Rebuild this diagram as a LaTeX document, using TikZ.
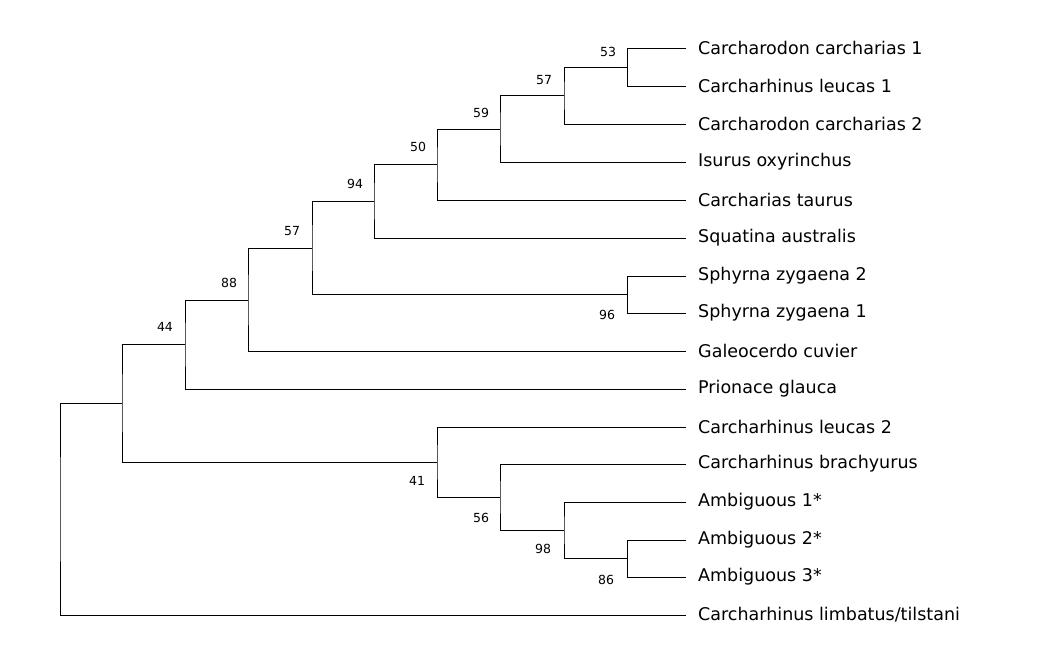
\documentclass[tikz,border=0pt]{standalone}
\usepackage{fontspec}
\setmainfont{DejaVu Sans}
\begin{document}
\begin{tikzpicture}[x=1pt,y=-1pt,
  leaf/.style={anchor=west,font=\fontsize{17.5}{20}\selectfont,inner sep=0pt},
  bs/.style={font=\fontsize{12.5}{14}\selectfont,inner sep=0pt},
  br/.style={line width=0.8pt}]
\useasboundingbox (0,0) rectangle (1056,666);
% leaves
\foreach \n/\y/\t in {L1/48/Carcharodon carcharias 1,L2/86/Carcharhinus leucas 1,L3/124/Carcharodon carcharias 2,L4/162/Isurus oxyrinchus,L5/200/Carcharias taurus,L6/238/Squatina australis,L7/276/Sphyrna zygaena 2,L8/313/Sphyrna zygaena 1,L9/351/Galeocerdo cuvier,L10/389/Prionace glauca,L11/427/Carcharhinus leucas 2,L12/464/Carcharhinus brachyurus,L13/502/Ambiguous 1*,L14/540/Ambiguous 2*,L15/577/Ambiguous 3*,L16/615/{Carcharhinus limbatus/tilstani}}
 {\coordinate (\n) at (686,\y); \node[leaf] (t\n) at (698,\y) {\t};}
% internal nodes
\coordinate (n53) at (627,67);
\coordinate (n57a) at (564,95.5);
\coordinate (n59) at (500,129);
\coordinate (n50) at (437,164.5);
\coordinate (n94) at (374,201);
\coordinate (n96) at (627,294.5);
\coordinate (n57b) at (312,248);
\coordinate (n88) at (248,300);
\coordinate (n44) at (185,344.5);
\coordinate (n86) at (627,558.5);
\coordinate (n98) at (564,530);
\coordinate (n56) at (500,497);
\coordinate (n41) at (437,462);
\coordinate (nin) at (122,403);
\coordinate (root) at (60,509);
\foreach \p/\a/\b in {n53/L1/L2,n57a/n53/L3,n59/n57a/L4,n50/n59/L5,n94/n50/L6,n96/L7/L8,n57b/n94/n96,n88/n57b/L9,n44/n88/L10,n86/L14/L15,n98/L13/n86,n56/L12/n98,n41/L11/n56,nin/n44/n41,root/nin/L16}
 {\draw[br] (\a) -| (\p) |- (\b);}
% bootstrap labels
\node[bs] (b53) at (608,52) {53};
\node[bs] (b57a) at (544,80) {57};
\node[bs] (b59) at (481,113) {59};
\node[bs] (b50) at (418,147) {50};
\node[bs] (b94) at (355,184) {94};
\node[bs] (b96) at (607,315) {96};
\node[bs] (b57b) at (292,231) {57};
\node[bs] (b88) at (229,283) {88};
\node[bs] (b44) at (165,327) {44};
\node[bs] (b86) at (606,580) {86};
\node[bs] (b98) at (543,549) {98};
\node[bs] (b56) at (481,518) {56};
\node[bs] (b41) at (417,481) {41};
\end{tikzpicture}
\end{document}
